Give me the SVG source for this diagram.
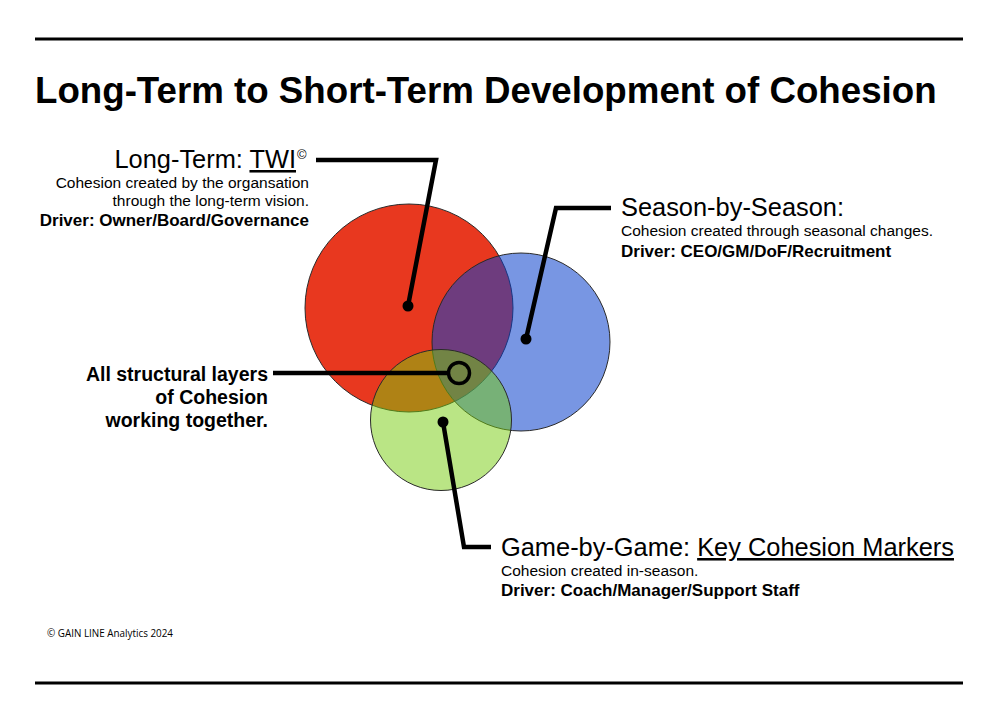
<svg xmlns="http://www.w3.org/2000/svg" width="1000" height="723" viewBox="0 0 1000 723">
<style>
.rule{stroke:#000;stroke-width:3}
.conn{fill:none;stroke:#000;stroke-width:4.5;stroke-linejoin:miter}
.dot{fill:#000}
.circ{stroke:#2a2a2a;stroke-width:1}
.head{font-family:"Liberation Sans",Arial,sans-serif;font-size:25.4px;fill:#000}
.small{font-family:"Liberation Sans",Arial,sans-serif;font-size:15.5px;fill:#000}
.bold{font-family:"Liberation Sans",Arial,sans-serif;font-size:17px;font-weight:bold;fill:#000}
.mid{font-family:"Liberation Sans",Arial,sans-serif;font-size:19.5px;font-weight:bold;fill:#000}
</style>
<rect width="1000" height="723" fill="#fff"/>
<line class="rule" x1="35" y1="39" x2="963" y2="39"/>
<line class="rule" x1="35" y1="683" x2="963" y2="683"/>
<text x="35" y="103" font-family="Liberation Sans, Arial, sans-serif" font-size="36.7" font-weight="bold">Long-Term to Short-Term Development of Cohesion</text>

<g id="venn">
<circle id="long-term" class="circ" cx="409" cy="308" r="104" fill="#E8381F"/>
<circle id="season" class="circ" cx="521" cy="342" r="89" fill="rgb(10,64,204)" fill-opacity="0.55"/>
<circle id="game" class="circ" cx="441" cy="420" r="70.5" fill="rgb(117,203,11)" fill-opacity="0.5"/>
</g>

<g id="connectors">
<polyline class="conn" points="316,160 436,160 408,306"/>
<circle class="dot" cx="408" cy="306" r="5.5"/>
<polyline class="conn" points="611,208 556,208 526,339"/>
<circle class="dot" cx="526" cy="339" r="5.5"/>
<line class="conn" x1="273" y1="373" x2="447" y2="373"/>
<circle cx="459" cy="373" r="10.5" fill="none" stroke="#000" stroke-width="3.5"/>
<polyline class="conn" points="443,422 464,547 491,547"/>
<circle class="dot" cx="443" cy="422" r="5.5"/>
</g>

<g id="label-long-term">
<text class="head" x="296" y="168" text-anchor="end">Long-Term: <tspan text-decoration="underline">TWI</tspan></text>
<text x="297" y="159" font-family="Liberation Sans, Arial, sans-serif" font-size="13">©</text>
<text class="small" x="309" y="188" text-anchor="end">Cohesion created by the organsation</text>
<text class="small" x="309" y="206" text-anchor="end">through the long-term vision.</text>
<text class="bold" x="309" y="226" text-anchor="end">Driver: Owner/Board/Governance</text>
</g>

<g id="label-season">
<text class="head" x="621" y="216">Season-by-Season:</text>
<text class="small" x="621" y="236">Cohesion created through seasonal changes.</text>
<text class="bold" x="621" y="257">Driver: CEO/GM/DoF/Recruitment</text>
</g>

<g id="label-center">
<text class="mid" x="268" y="381" text-anchor="end">All structural layers</text>
<text class="mid" x="268" y="404" text-anchor="end">of Cohesion</text>
<text class="mid" x="268" y="427" text-anchor="end">working together.</text>
</g>

<g id="label-game">
<text class="head" x="501" y="556">Game-by-Game: <tspan text-decoration="underline">Key Cohesion Markers</tspan></text>
<text class="small" x="501" y="576">Cohesion created in-season.</text>
<text class="bold" x="501" y="596">Driver: Coach/Manager/Support Staff</text>
</g>

<text x="47" y="637" font-family="Open Sans, sans-serif" font-size="11.5" textLength="126" lengthAdjust="spacingAndGlyphs">© GAIN LINE Analytics 2024</text>
</svg>
